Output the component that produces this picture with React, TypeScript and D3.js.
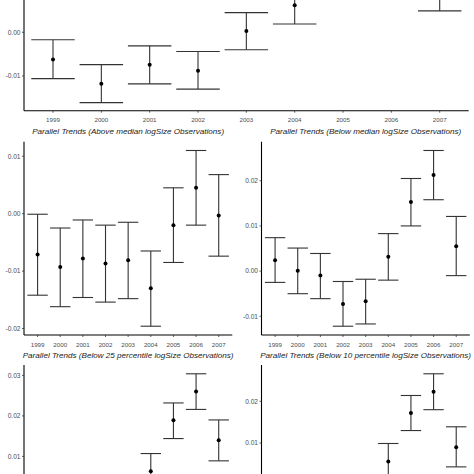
import React from 'react';
import * as d3 from 'd3';

const years = ['1999', '2000', '2001', '2002', '2003', '2004', '2005', '2006', '2007'];

// estimate, lower, upper per year
const aboveMedianEst = [-0.0062, -0.0118, -0.0074, -0.0088, 0.0003, 0.0062, 0.0135, 0.0163, 0.0093];
const aboveMedianLo = [-0.0106, -0.0161, -0.0118, -0.013, -0.004, 0.0019, 0.0092, 0.0119, 0.0049];
const aboveMedianHi = [-0.0017, -0.0074, -0.0031, -0.0044, 0.0045, 0.0105, 0.0178, 0.0207, 0.0137];

const belowMedianEst = [-0.0071, -0.0093, -0.0078, -0.0087, -0.0081, -0.013, -0.002, 0.0045, -0.0003];
const belowMedianLo = [-0.0142, -0.0162, -0.0146, -0.0154, -0.0148, -0.0196, -0.0085, -0.002, -0.0074];
const belowMedianHi = [-0.0001, -0.0025, -0.0011, -0.002, -0.0015, -0.0065, 0.0045, 0.011, 0.0068];

const below25Est = [0.0024, 0.0001, -0.001, -0.0073, -0.0067, 0.0032, 0.0153, 0.0213, 0.0055];
const below25Lo = [-0.0025, -0.005, -0.0061, -0.0122, -0.0117, -0.002, 0.01, 0.0158, -0.001];
const below25Hi = [0.0074, 0.0051, 0.0039, -0.0023, -0.0018, 0.0083, 0.0205, 0.0267, 0.0121];

const below10Est = [0.0, -0.0015, -0.0025, -0.008, -0.007, 0.0063, 0.0189, 0.026, 0.014];
const below10Lo = [-0.005, -0.0065, -0.0075, -0.013, -0.012, 0.0019, 0.0144, 0.0216, 0.0089];
const below10Hi = [0.0035, 0.0025, 0.0015, -0.003, -0.002, 0.0107, 0.0232, 0.0304, 0.019];

const pct1Est = [-0.003, -0.004, -0.005, -0.0105, -0.0095, 0.0056, 0.0172, 0.0223, 0.009];
const pct1Lo = [-0.0075, -0.009, -0.01, -0.0155, -0.0145, 0.0013, 0.013, 0.018, 0.0043];
const pct1Hi = [0.0015, 0.001, 0.0, -0.0055, -0.0045, 0.0099, 0.0214, 0.0266, 0.0139];

const titles = [
  '',
  'Parallel Trends (Above median logSize Observations)',
  'Parallel Trends (Below median logSize Observations)',
  'Parallel Trends (Below 25 percentile logSize Observations)',
  'Parallel Trends (Below 10 percentile logSize Observations)',
];

const FONT = 'Liberation Sans, Arial, Helvetica, sans-serif';
const fmt = (v: number) => d3.format('.2f')(v).replace('\u2212', '-');
const H = 474;

type PanelProps = {
  x0: number; x1: number; y0: number; y1: number;
  est: number[]; lo: number[]; hi: number[]; title: string;
};

function Panel({x0, x1, y0, y1, est, lo, hi, title}: PanelProps) {
  const x = d3.scalePoint<string>().domain(years).range([x0, x1]).padding(0.6);
  const mn = d3.min(lo) as number;
  const mx = d3.max(hi) as number;
  const pad = (mx - mn) * 0.05;
  const y = d3.scaleLinear().domain([mn - pad, mx + pad]).range([y1, y0]);
  const half = x.step() * 0.45;
  // only the ticks that fall inside the picture
  const ticks = y.ticks(4).filter(t => y(t) > 4 && y(t) < H - 4);
  const cx = (x0 + x1) / 2;
  const showBottom = y1 < H - 10;
  return (
    <g>
      {title && (
        <text x={cx} y={y0 - 7.5} textAnchor="middle" fontSize={8.1} fontStyle="italic" fill="#1a1a1a" fontFamily={FONT}>
          {title}
        </text>
      )}
      {years.map((yr, i) => (
        <g key={yr} stroke="#333" strokeWidth={1.1}>
          <line x1={x(yr)} x2={x(yr)} y1={y(lo[i])} y2={y(hi[i])} />
          <line x1={(x(yr) as number) - half} x2={(x(yr) as number) + half} y1={y(lo[i])} y2={y(lo[i])} />
          <line x1={(x(yr) as number) - half} x2={(x(yr) as number) + half} y1={y(hi[i])} y2={y(hi[i])} />
        </g>
      ))}
      {years.map((yr, i) => (
        <circle key={'p' + yr} cx={x(yr)} cy={y(est[i])} r={2} fill="#000" />
      ))}
      <line x1={x0} x2={x0} y1={y0} y2={y1} stroke="#000" strokeWidth={1.1} />
      <line x1={x0} x2={x1} y1={y1} y2={y1} stroke="#000" strokeWidth={1.1} />
      {ticks.map(t => (
        <g key={t}>
          <line x1={x0 - 2} x2={x0} y1={y(t)} y2={y(t)} stroke="#333" strokeWidth={0.8} />
          <text x={x0 - 3.5} y={y(t)} dy="0.35em" textAnchor="end" fontSize={6.6} fill="#4d4d4d" fontFamily={FONT}>
            {fmt(t)}
          </text>
        </g>
      ))}
      {showBottom && years.map(yr => (
        <g key={'t' + yr}>
          <line x1={x(yr)} x2={x(yr)} y1={y1} y2={y1 + 2} stroke="#333" strokeWidth={0.8} />
          <text x={x(yr)} y={y1 + 11.5} textAnchor="middle" fontSize={6.2} fill="#4d4d4d" fontFamily={FONT}>
            {yr}
          </text>
        </g>
      ))}
    </g>
  );
}

export default function App() {
  return (
    <svg width={474} height={474} style={{position: 'absolute', left: 0, top: 0, background: '#fff'}}>
      <Panel x0={24} x1={468.7} y0={-66.2} y1={110.7} est={aboveMedianEst} lo={aboveMedianLo} hi={aboveMedianHi} title={titles[0]} />
      <Panel x0={24} x1={232.3} y0={141.7} y1={335} est={belowMedianEst} lo={belowMedianLo} hi={belowMedianHi} title={titles[1]} />
      <Panel x0={261.5} x1={469.8} y0={141.7} y1={335} est={below25Est} lo={below25Lo} hi={below25Hi} title={titles[2]} />
      <Panel x0={24} x1={232.3} y0={365} y1={558.3} est={below10Est} lo={below10Lo} hi={below10Hi} title={titles[3]} />
      <Panel x0={261.5} x1={469.8} y0={365} y1={558.3} est={pct1Est} lo={pct1Lo} hi={pct1Hi} title={titles[4]} />
    </svg>
  );
}
